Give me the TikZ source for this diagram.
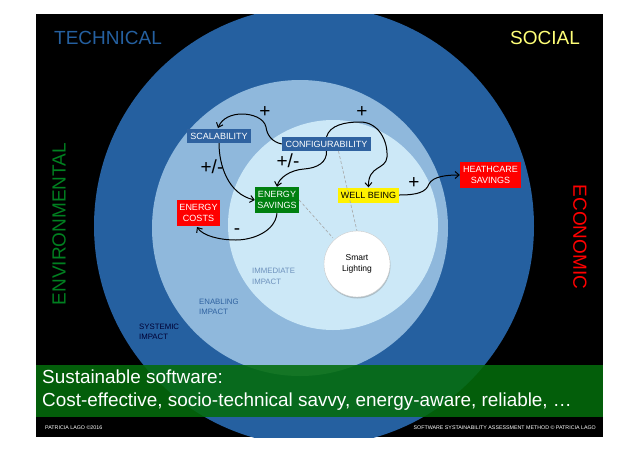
\documentclass[tikz,border=0pt]{standalone}
\usepackage{fontspec}
\setmainfont{Liberation Sans}
\usetikzlibrary{shadows,arrows.meta}
\definecolor{darkblue}{RGB}{37,96,160}
\definecolor{midblue}{RGB}{143,184,220}
\definecolor{paleblue}{RGB}{204,232,247}
\definecolor{boxblue}{RGB}{47,98,160}
\definecolor{boxgreen}{RGB}{0,128,16}
\definecolor{bandgreen}{RGB}{4,108,12}
\definecolor{titlegreen}{RGB}{0,128,32}
\definecolor{titleyellow}{RGB}{255,255,120}
\begin{document}
\begin{tikzpicture}[x=1pt,y=-1pt]
		\tikzstyle{ring} = [circle,inner sep=0pt]
		\tikzstyle{factor} = [inner sep=0pt,text=white,font=\fontsize{9}{11}\selectfont,align=center]
		\tikzstyle{impact} = [inner sep=0pt,font=\fontsize{7.8}{10.5}\selectfont,align=left,anchor=west]
		\tikzstyle{fleche} = [-{Straight Barb[length=4pt,width=7pt]},line width=1pt]
		\tikzstyle{signe} = [inner sep=0pt,font=\fontsize{19}{19}\selectfont]
		\tikzstyle{axe} = [inner sep=0pt,font=\fontsize{19}{19}\selectfont]
		\tikzstyle{pied} = [inner sep=0pt,text=white,font=\fontsize{5.3}{6}\selectfont]
		\tikzstyle{lien} = [densely dashed,gray!70,line width=0.6pt]

		\useasboundingbox (0,0) rectangle (638,451);
		\fill[white] (0,0) rectangle (638,451);
		\fill[black] (36,14) rectangle (603,437);

		\begin{scope}
		\clip (36,14) rectangle (603,437);
		\node[ring,fill=darkblue,minimum size=440pt](systemic) at (314,226) {};
		\end{scope}
		\node[ring,fill=midblue,minimum size=296pt](enabling) at (300,228) {};
		\node[ring,fill=paleblue,minimum size=210pt](immediate) at (333,225) {};

		\fill[bandgreen,fill opacity=0.88] (36,365) rectangle (603,417);

		\node[axe,text=darkblue](technical) at (108,38) {TECHNICAL};
		\node[axe,text=titleyellow](social) at (545,38) {SOCIAL};
		\node[axe,text=titlegreen,rotate=90](environmental) at (59,224) {ENVIRONMENTAL};
		\node[axe,text=red,rotate=-90](economic) at (580,237) {ECONOMIC};

		\node[factor,fill=boxblue,minimum width=64pt,minimum height=14pt](scalability) at (219,136) {SCALABILITY};
		\node[factor,fill=boxblue,minimum width=89pt,minimum height=14pt](config) at (326.5,144) {CONFIGURABILITY};
		\node[factor,fill=boxgreen,minimum width=44pt,minimum height=26pt](savings) at (277,200) {ENERGY\\SAVINGS};
		\node[factor,fill=red,minimum width=43pt,minimum height=26pt](costs) at (198.5,213) {ENERGY\\COSTS};
		\node[factor,fill=yellow,text=black,minimum width=61pt,minimum height=15pt](well) at (368.5,195) {WELL BEING};
		\node[factor,fill=red,minimum width=61pt,minimum height=26pt](health) at (490.5,175) {HEATHCARE\\SAVINGS};

		\draw[lien] (config.south)+(12,0) -- (357,231);
		\draw[lien] (savings.east) -- (333,238);
		\node[ring,fill=white,draw=gray!40,minimum size=66pt,drop shadow={opacity=0.4,shadow xshift=0.5pt,shadow yshift=-1.5pt},align=center,font=\fontsize{8.5}{11}\selectfont](smart) at (357,264) {Smart\\Lighting};

		\draw[fleche] (config.west) .. controls (272,142) and (267,135) .. (266,127) .. controls (264,118) and (252,114) .. (242,114) .. controls (232,114) and (222,118) .. (218,128);
		\draw[fleche] (scalability.south) .. controls (219,165) and (228,194) .. (savings.west);
		\draw[fleche] (config.south) .. controls (327,162) and (318,168) .. (304,169) .. controls (290,170) and (279,178) .. (savings.north);
		\draw[fleche] (savings.south) .. controls (275,232) and (252,240) .. (236,240) .. controls (220,240) and (203,236) .. (197,227);
		\draw[fleche] (config.north) .. controls (330,125) and (345,122) .. (360,122) .. controls (378,122) and (388,140) .. (387,157) .. controls (386,170) and (368,165) .. (well.north);
		\draw[fleche] (well.east) .. controls (418,195) and (426,192) .. (429,184) .. controls (433,176) and (448,175) .. (health.west);

		\node[signe](plusa) at (265,112) {+};
		\node[signe](plusb) at (362,112) {+};
		\node[signe](plusc) at (414,183) {+};
		\node[signe](mixa) at (212,167) {+/-};
		\node[signe](mixb) at (288,161) {+/-};
		\node[signe](minus) at (237,232) {-};

		\node[impact,text=boxblue!70!white](immediatelabel) at (252,276.5) {IMMEDIATE\\IMPACT};
		\node[impact,text=boxblue](enablinglabel) at (199,307) {ENABLING\\IMPACT};
		\node[impact,text=black!80!blue](systemiclabel) at (139,332) {SYSTEMIC\\IMPACT};

		\node[inner sep=0pt,text=white,anchor=west,align=left,font=\fontsize{18.9}{23}\selectfont](claim) at (42,390.5) {Sustainable software:\\Cost-effective, socio-technical savvy, energy-aware, reliable, …};

		\node[pied,anchor=west](author) at (45,428) {PATRICIA LAGO ©2016};
		\node[pied,anchor=east](method) at (596,428) {SOFTWARE SYSTAINABILITY ASSESSMENT METHOD © PATRICIA LAGO};
\end{tikzpicture}
\end{document}
